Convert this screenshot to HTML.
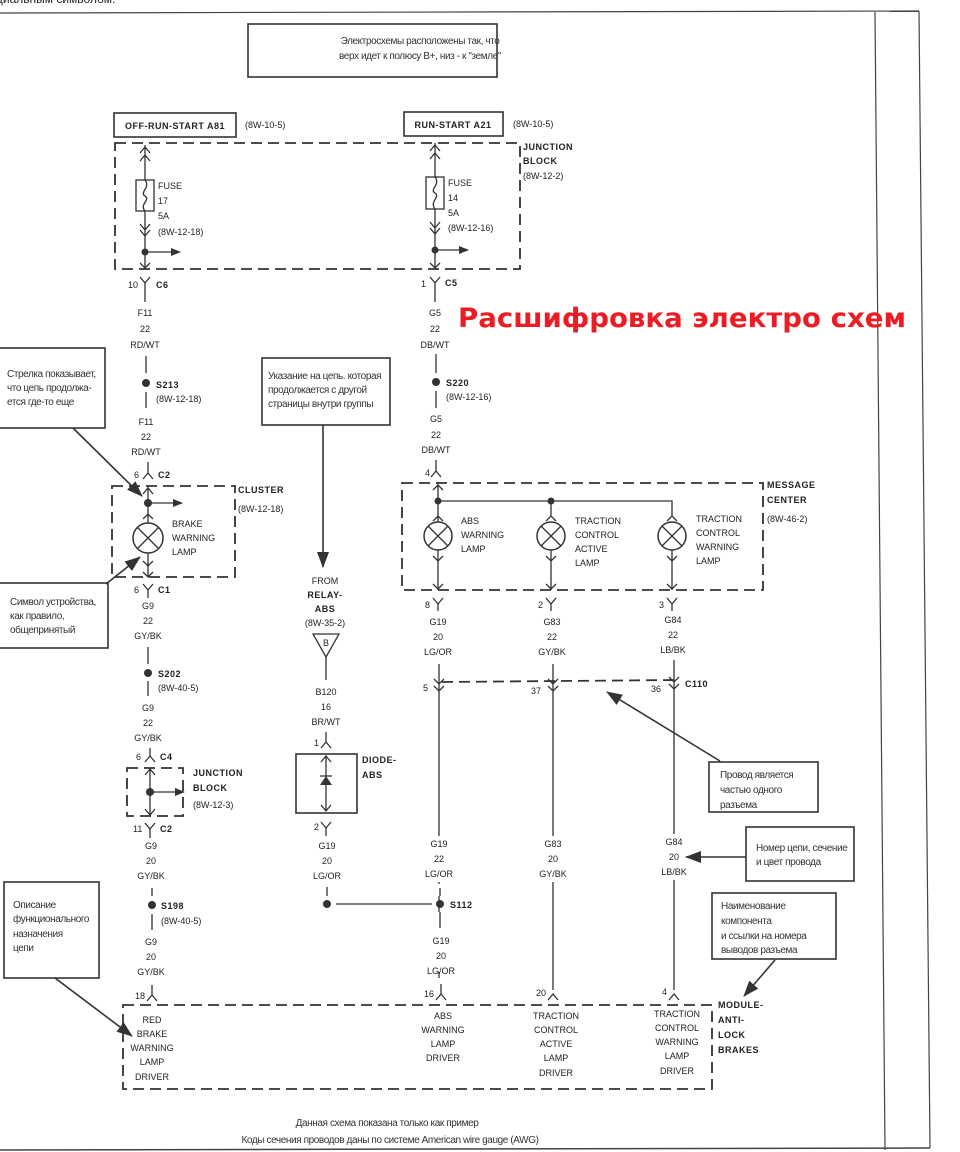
<!DOCTYPE html>
<html><head><meta charset="utf-8"><style>
html,body{margin:0;padding:0;background:#fff}
svg{display:block}
text{font-family:"Liberation Sans",sans-serif;fill:#222}
.s{font-size:9px}
.b{font-size:9px;font-weight:bold;letter-spacing:0.5px}
.r{font-size:10px;fill:#333;letter-spacing:-0.4px}
.w{stroke:#333;stroke-width:1.3;fill:none}
.d{stroke:#333;stroke-width:1.8;fill:none;stroke-dasharray:11,6}
.bx{stroke:#333;stroke-width:1.6;fill:#fff}
</style></head><body>
<svg width="960" height="1152" viewBox="0 0 960 1152" xmlns="http://www.w3.org/2000/svg">
<defs>
<marker id="ah" markerWidth="10" markerHeight="8" refX="9" refY="4" orient="auto" markerUnits="userSpaceOnUse"><path d="M0,0 L10,4 L0,8 Z" fill="#333"/></marker>
<marker id="ab" markerWidth="16" markerHeight="12" refX="15" refY="6" orient="auto" markerUnits="userSpaceOnUse"><path d="M0,0 L16,6 L0,12 Z" fill="#333"/></marker>
</defs>
<text x="-4" y="3" style="font-size:12px">циальным символом.</text>
<line x1="0" y1="13" x2="919" y2="11" stroke="#444" stroke-width="1.2"/>
<line x1="875" y1="12" x2="885" y2="1150" stroke="#444" stroke-width="1.2"/>
<line x1="919" y1="11" x2="930" y2="1148" stroke="#444" stroke-width="1.2"/>
<line x1="0" y1="1150" x2="930" y2="1148" stroke="#444" stroke-width="1.5"/>

<rect x="248" y="24" width="249" height="53" class="bx"/>
<text x="420" y="44" text-anchor="middle" class="r">Электросхемы расположены так, что</text>
<text x="420" y="59" text-anchor="middle" class="r">верх идет к полюсу В+, низ - к "земле"</text>

<rect x="114" y="113" width="122" height="24" class="bx"/>
<text x="175" y="129" text-anchor="middle" class="b">OFF-RUN-START A81</text>
<text x="245" y="128" class="s">(8W-10-5)</text>
<rect x="404" y="112" width="99" height="24" class="bx"/>
<text x="453" y="128" text-anchor="middle" class="b">RUN-START A21</text>
<text x="513" y="127" class="s">(8W-10-5)</text>
<rect x="115" y="143" width="405" height="126" class="d"/>
<text x="523" y="150" class="b">JUNCTION</text>
<text x="523" y="164" class="b">BLOCK</text>
<text x="523" y="179" class="s">(8W-12-2)</text>

<path class="w" d="M145 145 V268 M140 153 L145 147 L150 153 M140 161 L145 155 L150 161 M140 224 L145 230 L150 224 M140 230 L145 236 L150 230 M140 263 L145 268 L150 263"/>
<rect x="136" y="180" width="18" height="31" fill="#fff" stroke="#333" stroke-width="1.3"/>
<path class="w" d="M145 180 c6 8 -6 12 0 16 c6 4 -6 8 0 15"/>
<text x="158" y="189" class="s">FUSE</text><text x="158" y="204" class="s">17</text><text x="158" y="219" class="s">5A</text><text x="158" y="235" class="s">(8W-12-18)</text>
<circle cx="145" cy="252" r="3.5" fill="#333"/><line x1="145" y1="252" x2="180" y2="252" class="w" marker-end="url(#ah)"/>
<path class="w" d="M435 143 V268 M430 151 L435 145 L440 151 M430 159 L435 153 L440 159 M430 222 L435 228 L440 222 M430 228 L435 234 L440 228 M430 263 L435 268 L440 263"/>
<rect x="426" y="177" width="18" height="32" fill="#fff" stroke="#333" stroke-width="1.3"/>
<path class="w" d="M435 177 c6 8 -6 12 0 16 c6 4 -6 8 0 16"/>
<text x="448" y="186" class="s">FUSE</text><text x="448" y="201" class="s">14</text><text x="448" y="216" class="s">5A</text><text x="448" y="231" class="s">(8W-12-16)</text>
<circle cx="435" cy="250" r="3.5" fill="#333"/><line x1="435" y1="250" x2="468" y2="250" class="w" marker-end="url(#ah)"/>

<path class="w" d="M140 277 L145 283 L150 277 M145 283 V302"/>
<text x="128" y="288" class="s">10</text><text x="156" y="288" class="b">C6</text>
<text x="145" y="316" text-anchor="middle" class="s">F11</text><text x="145" y="332" text-anchor="middle" class="s">22</text><text x="145" y="348" text-anchor="middle" class="s">RD/WT</text>
<path class="w" d="M146 356 V373 M146 392 V408"/>
<circle cx="146" cy="383" r="4" fill="#333"/>
<text x="156" y="388" class="b">S213</text><text x="156" y="402" class="s">(8W-12-18)</text>
<text x="146" y="425" text-anchor="middle" class="s">F11</text><text x="146" y="440" text-anchor="middle" class="s">22</text><text x="146" y="455" text-anchor="middle" class="s">RD/WT</text>
<path class="w" d="M143 479 L148 473 L153 479 M148 473 V462"/>
<text x="134" y="478" class="s">6</text><text x="158" y="478" class="b">C2</text>
<rect x="112" y="486" width="123" height="91" class="d"/>
<path class="w" d="M148 486 V577 M143 494 L148 488 L153 494 M143 519 L148 514 L153 519 M143 561 L148 566 L153 561 M143 572 L148 577 L153 572"/>
<circle cx="148" cy="503" r="4" fill="#333"/><line x1="148" y1="503" x2="182" y2="503" class="w" marker-end="url(#ah)"/>
<circle cx="148" cy="538" r="15" fill="#fff" stroke="#333" stroke-width="1.5"/>
<path class="w" d="M137.5 527.5 L158.5 548.5 M158.5 527.5 L137.5 548.5"/>
<text x="172" y="527" class="s">BRAKE</text><text x="172" y="541" class="s">WARNING</text><text x="172" y="555" class="s">LAMP</text>
<text x="238" y="493" class="b">CLUSTER</text><text x="238" y="512" class="s">(8W-12-18)</text>
<path class="w" d="M143 584 L148 590 L153 584 M148 590 V598"/>
<text x="134" y="593" class="s">6</text><text x="158" y="593" class="b">C1</text>
<text x="148" y="609" text-anchor="middle" class="s">G9</text><text x="148" y="624" text-anchor="middle" class="s">22</text><text x="148" y="639" text-anchor="middle" class="s">GY/BK</text>
<path class="w" d="M148 647 V664 M148 681 V696"/>
<circle cx="148" cy="673" r="4" fill="#333"/>
<text x="158" y="677" class="b">S202</text><text x="158" y="691" class="s">(8W-40-5)</text>
<text x="148" y="711" text-anchor="middle" class="s">G9</text><text x="148" y="726" text-anchor="middle" class="s">22</text><text x="148" y="741" text-anchor="middle" class="s">GY/BK</text>
<path class="w" d="M145 762 L150 756 L155 762 M150 756 V748"/>
<text x="136" y="760" class="s">6</text><text x="160" y="760" class="b">C4</text>
<rect x="127" y="768" width="56" height="48" class="d"/>
<path class="w" d="M150 768 V816 M145 775 L150 769 L155 775 M145 809 L150 815 L155 809"/>
<circle cx="150" cy="792" r="4" fill="#333"/><line x1="150" y1="792" x2="184" y2="792" class="w" marker-end="url(#ah)"/>
<text x="193" y="776" class="b">JUNCTION</text><text x="193" y="791" class="b">BLOCK</text><text x="193" y="808" class="s">(8W-12-3)</text>
<path class="w" d="M145 823 L150 829 L155 823 M150 829 V838"/>
<text x="133" y="832" class="s">11</text><text x="160" y="832" class="b">C2</text>
<text x="151" y="849" text-anchor="middle" class="s">G9</text><text x="151" y="864" text-anchor="middle" class="s">20</text><text x="151" y="879" text-anchor="middle" class="s">GY/BK</text>
<path class="w" d="M152 888 V896 M152 914 V930"/>
<circle cx="152" cy="905" r="4" fill="#333"/>
<text x="161" y="909" class="b">S198</text><text x="161" y="924" class="s">(8W-40-5)</text>
<text x="151" y="945" text-anchor="middle" class="s">G9</text><text x="151" y="960" text-anchor="middle" class="s">20</text><text x="151" y="975" text-anchor="middle" class="s">GY/BK</text>
<path class="w" d="M147 1001 L152 995 L157 1001 M152 995 V985"/>
<text x="135" y="999" class="s">18</text>

<rect x="123" y="1005" width="589" height="84" class="d"/>
<g text-anchor="middle" class="s">
<text x="152" y="1023">RED</text><text x="152" y="1037">BRAKE</text><text x="152" y="1051">WARNING</text><text x="152" y="1065">LAMP</text><text x="152" y="1080">DRIVER</text>
<text x="443" y="1019">ABS</text><text x="443" y="1033">WARNING</text><text x="443" y="1047">LAMP</text><text x="443" y="1061">DRIVER</text>
<text x="556" y="1019">TRACTION</text><text x="556" y="1033">CONTROL</text><text x="556" y="1047">ACTIVE</text><text x="556" y="1061">LAMP</text><text x="556" y="1076">DRIVER</text>
<text x="677" y="1017">TRACTION</text><text x="677" y="1031">CONTROL</text><text x="677" y="1045">WARNING</text><text x="677" y="1059">LAMP</text><text x="677" y="1074">DRIVER</text>
</g>
<text x="718" y="1008" class="b">MODULE-</text><text x="718" y="1023" class="b">ANTI-</text><text x="718" y="1038" class="b">LOCK</text><text x="718" y="1053" class="b">BRAKES</text>

<path class="w" d="M430 277 L435 283 L440 277 M435 283 V302"/>
<text x="421" y="287" class="s">1</text><text x="445" y="286" class="b">C5</text>
<text x="435" y="316" text-anchor="middle" class="s">G5</text><text x="435" y="332" text-anchor="middle" class="s">22</text><text x="435" y="348" text-anchor="middle" class="s">DB/WT</text>
<path class="w" d="M436 354 V373 M436 391 V408"/>
<circle cx="436" cy="382" r="4" fill="#333"/>
<text x="446" y="386" class="b">S220</text><text x="446" y="400" class="s">(8W-12-16)</text>
<text x="436" y="422" text-anchor="middle" class="s">G5</text><text x="436" y="438" text-anchor="middle" class="s">22</text><text x="436" y="453" text-anchor="middle" class="s">DB/WT</text>
<path class="w" d="M431 477 L436 471 L441 477 M436 471 V460"/>
<text x="425" y="476" class="s">4</text>

<rect x="402" y="483" width="361" height="107" class="d"/>
<text x="767" y="488" class="b">MESSAGE</text><text x="767" y="503" class="b">CENTER</text><text x="767" y="522" class="s">(8W-46-2)</text>
<path class="w" d="M438 483 V590 M433 490 L438 485 L443 490 M438 501 H672 V516 M551 501 V516 M433 521 L438 516 L443 521 M546 521 L551 516 L556 521 M667 521 L672 516 L677 521"/>
<circle cx="438" cy="501" r="3.5" fill="#333"/><circle cx="551" cy="501" r="3.5" fill="#333"/>
<path class="w" d="M551 550 V590 M672 550 V590 M433 556 L438 561 L443 556 M546 556 L551 561 L556 556 M667 556 L672 561 L677 556 M433 584 L438 589 L443 584 M546 584 L551 589 L556 584 M667 584 L672 589 L677 584"/>
<g fill="#fff" stroke="#333" stroke-width="1.5">
<circle cx="438" cy="536" r="14"/><circle cx="551" cy="536" r="14"/><circle cx="672" cy="536" r="14"/></g>
<path class="w" d="M428 526 L448 546 M448 526 L428 546 M541 526 L561 546 M561 526 L541 546 M662 526 L682 546 M682 526 L662 546"/>
<text x="461" y="524" class="s">ABS</text><text x="461" y="538" class="s">WARNING</text><text x="461" y="552" class="s">LAMP</text>
<text x="575" y="524" class="s">TRACTION</text><text x="575" y="538" class="s">CONTROL</text><text x="575" y="552" class="s">ACTIVE</text><text x="575" y="566" class="s">LAMP</text>
<text x="696" y="522" class="s">TRACTION</text><text x="696" y="536" class="s">CONTROL</text><text x="696" y="550" class="s">WARNING</text><text x="696" y="564" class="s">LAMP</text>

<path class="w" d="M433 598 L438 604 L443 598 M438 604 V611 M546 598 L551 604 L556 598 M551 604 V611 M667 598 L672 604 L677 598 M672 604 V611"/>
<text x="425" y="608" class="s">8</text><text x="538" y="608" class="s">2</text><text x="659" y="608" class="s">3</text>
<g text-anchor="middle" class="s">
<text x="438" y="625">G19</text><text x="438" y="640">20</text><text x="438" y="655">LG/OR</text>
<text x="552" y="625">G83</text><text x="552" y="640">22</text><text x="552" y="655">GY/BK</text>
<text x="673" y="623">G84</text><text x="673" y="638">22</text><text x="673" y="653">LB/BK</text>
</g>
<path class="w" d="M439 664 V990 M553 664 V990 M674 660 V990"/>
<line x1="442" y1="682" x2="680" y2="680" class="d" stroke-width="1.4"/>
<path class="w" d="M434 679 L439 684 L444 679 M434 686 L439 691 L444 686 M548 679 L553 684 L558 679 M548 686 L553 691 L558 686 M669 677 L674 682 L679 677 M669 684 L674 689 L679 684"/>
<text x="423" y="691" class="s">5</text><text x="531" y="694" class="s">37</text><text x="651" y="692" class="s">36</text><text x="685" y="687" class="b">C110</text>
<rect x="420" y="836" width="36" height="46" fill="#fff"/><rect x="536" y="836" width="36" height="46" fill="#fff"/><rect x="656" y="834" width="36" height="46" fill="#fff"/>
<g text-anchor="middle" class="s">
<text x="439" y="847">G19</text><text x="439" y="862">22</text><text x="439" y="877">LG/OR</text>
<text x="553" y="847">G83</text><text x="553" y="862">20</text><text x="553" y="877">GY/BK</text>
<text x="674" y="845">G84</text><text x="674" y="860">20</text><text x="674" y="875">LB/BK</text>
</g>
<rect x="430" y="884" width="18" height="12" fill="#fff"/>
<rect x="430" y="912" width="18" height="60" fill="#fff"/>
<path class="w" d="M440 888 V896 M440 912 V928"/>
<circle cx="440" cy="904" r="4" fill="#333"/><circle cx="327" cy="904" r="4" fill="#333"/>
<line x1="336" y1="904" x2="432" y2="904" class="w"/>
<text x="450" y="908" class="b">S112</text>
<g text-anchor="middle" class="s">
<text x="441" y="944">G19</text><text x="441" y="959">20</text><text x="441" y="974">LG/OR</text>
</g>
<rect x="433" y="978" width="14" height="20" fill="#fff"/>
<path class="w" d="M436 1000 L441 994 L446 1000 M441 994 V984 M548 1000 L553 994 L558 1000 M669 1000 L674 994 L679 1000"/>
<text x="424" y="997" class="s">16</text><text x="536" y="996" class="s">20</text><text x="662" y="995" class="s">4</text>

<text x="325" y="584" text-anchor="middle" class="s">FROM</text>
<text x="325" y="598" text-anchor="middle" class="b">RELAY-</text>
<text x="325" y="612" text-anchor="middle" class="b">ABS</text>
<text x="325" y="626" text-anchor="middle" class="s">(8W-35-2)</text>
<path d="M313 634 L339 634 L326 657 Z" fill="#fff" stroke="#333" stroke-width="1.3"/>
<text x="326" y="646" text-anchor="middle" class="s">B</text>
<path class="w" d="M326 657 V680"/>
<g text-anchor="middle" class="s"><text x="326" y="695">B120</text><text x="326" y="710">16</text><text x="326" y="725">BR/WT</text></g>
<path class="w" d="M321 748 L326 742 L331 748 M326 742 V732"/>
<text x="314" y="746" class="s">1</text>
<rect x="296" y="754" width="61" height="59" class="bx"/>
<path class="w" d="M326 756 V811 M321 762 L326 756 L331 762 M321 805 L326 811 L331 805"/>
<path d="M320 785 L332 785 L326 776 Z" fill="#333"/><line x1="320" y1="776" x2="332" y2="776" class="w"/>
<text x="362" y="763" class="b">DIODE-</text><text x="362" y="778" class="b">ABS</text>
<path class="w" d="M321 822 L326 828 L331 822 M326 828 V836"/>
<text x="314" y="830" class="s">2</text>
<g text-anchor="middle" class="s"><text x="327" y="849">G19</text><text x="327" y="864">20</text><text x="327" y="879">LG/OR</text></g>
<path class="w" d="M327 887 V896"/>

<rect x="-2" y="348" width="107" height="80" class="bx"/>
<text x="7" y="377" class="r">Стрелка показывает,</text><text x="7" y="391" class="r">что цепь продолжа-</text><text x="7" y="405" class="r">ется где-то еще</text>
<line x1="73" y1="428" x2="142" y2="496" stroke="#333" stroke-width="1.6" marker-end="url(#ab)"/>

<rect x="262" y="358" width="128" height="67" class="bx"/>
<text x="268" y="379" class="r">Указание на цепь. которая</text><text x="268" y="393" class="r">продолжается с другой</text><text x="268" y="407" class="r">страницы внутри группы</text>
<line x1="323" y1="425" x2="323" y2="567" stroke="#333" stroke-width="1.6" marker-end="url(#ab)"/>

<rect x="-2" y="583" width="110" height="65" class="bx"/>
<text x="10" y="605" class="r">Символ устройства,</text><text x="10" y="619" class="r">как правило,</text><text x="10" y="633" class="r">общепринятый</text>
<line x1="106" y1="584" x2="140" y2="557" stroke="#333" stroke-width="1.6" marker-end="url(#ab)"/>

<rect x="709" y="762" width="109" height="50" class="bx"/>
<text x="720" y="778" class="r">Провод является</text><text x="720" y="793" class="r">частью одного</text><text x="720" y="808" class="r">разъема</text>
<line x1="720" y1="761" x2="607" y2="692" stroke="#333" stroke-width="1.6" marker-end="url(#ab)"/>

<rect x="746" y="827" width="108" height="54" class="bx"/>
<text x="756" y="851" class="r">Номер цепи, сечение</text><text x="756" y="865" class="r">и цвет провода</text>
<line x1="746" y1="857" x2="686" y2="857" stroke="#333" stroke-width="1.6" marker-end="url(#ab)"/>

<rect x="712" y="893" width="124" height="66" class="bx"/>
<text x="721" y="909" class="r">Наименование</text><text x="721" y="924" class="r">компонента</text><text x="721" y="939" class="r">и ссылки на номера</text><text x="721" y="953" class="r">выводов разъема</text>
<line x1="775" y1="960" x2="744" y2="996" stroke="#333" stroke-width="1.6" marker-end="url(#ab)"/>

<rect x="4" y="882" width="95" height="96" class="bx"/>
<text x="13" y="908" class="r">Описание</text><text x="13" y="922" class="r">функционального</text><text x="13" y="937" class="r">назначения</text><text x="13" y="951" class="r">цепи</text>
<line x1="55" y1="978" x2="132" y2="1036" stroke="#333" stroke-width="1.6" marker-end="url(#ab)"/>

<text x="458" y="327" style="font-family:'DejaVu Sans','Liberation Sans',sans-serif;font-size:27px;font-weight:bold;fill:#ec1c24" textLength="448" lengthAdjust="spacingAndGlyphs">Расшифровка электро схем</text>

<text x="387" y="1126" text-anchor="middle" class="r">Данная схема показана только как пример</text>
<text x="390" y="1143" text-anchor="middle" class="r">Коды сечения проводов даны по системе American wire gauge (AWG)</text>
</svg>
</body></html>
